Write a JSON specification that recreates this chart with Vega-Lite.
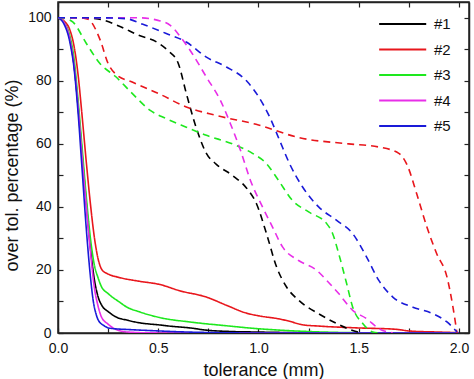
{
  "$schema": "https://vega.github.io/schema/vega-lite/v6.json",
  "width": 411,
  "height": 331,
  "autosize": {"type": "none"},
  "padding": {"left": 58, "top": 2, "right": 5, "bottom": 46},
  "background": "white",
  "config": {
    "font": "Liberation Sans",
    "view": {"stroke": "#222", "strokeWidth": 1.5},
    "axis": {
      "grid": false,
      "labelFont": "Liberation Sans",
      "titleFont": "Liberation Sans",
      "labelColor": "#111",
      "titleColor": "#111",
      "labelFontSize": 14,
      "titleFontSize": 18,
      "titleFontWeight": "normal",
      "tickColor": "#222",
      "tickWidth": 1.2,
      "tickSize": -5,
      "domainColor": "#222",
      "domainWidth": 1.5,
      "labelFlush": false,
      "labelOverlap": false
    }
  },
  "data": {"values": [
    {"series":"#1","style":"solid","x":0,"y":100},{"series":"#1","style":"solid","x":0.03,"y":98.5},{"series":"#1","style":"solid","x":0.06,"y":93},{"series":"#1","style":"solid","x":0.08,"y":85},{"series":"#1","style":"solid","x":0.1,"y":72},{"series":"#1","style":"solid","x":0.12,"y":57},{"series":"#1","style":"solid","x":0.14,"y":42},{"series":"#1","style":"solid","x":0.16,"y":28},{"series":"#1","style":"solid","x":0.18,"y":17.5},{"series":"#1","style":"solid","x":0.2,"y":11.5},{"series":"#1","style":"solid","x":0.22,"y":8.6},{"series":"#1","style":"solid","x":0.25,"y":6.8},{"series":"#1","style":"solid","x":0.283,"y":5.3},{"series":"#1","style":"solid","x":0.35,"y":4.0},{"series":"#1","style":"solid","x":0.41,"y":3.2},{"series":"#1","style":"solid","x":0.5,"y":2.6},{"series":"#1","style":"solid","x":0.57,"y":2.1},{"series":"#1","style":"solid","x":0.66,"y":1.6},{"series":"#1","style":"solid","x":0.74,"y":0.9},{"series":"#1","style":"solid","x":0.85,"y":0.5},{"series":"#1","style":"solid","x":1.0,"y":0.3},{"series":"#1","style":"solid","x":1.2,"y":0.1},{"series":"#1","style":"solid","x":1.5,"y":0},{"series":"#1","style":"solid","x":2.0,"y":0},
    {"series":"#2","style":"solid","x":0,"y":100},{"series":"#2","style":"solid","x":0.03,"y":99},{"series":"#2","style":"solid","x":0.06,"y":96},{"series":"#2","style":"solid","x":0.08,"y":91},{"series":"#2","style":"solid","x":0.1,"y":82},{"series":"#2","style":"solid","x":0.12,"y":69},{"series":"#2","style":"solid","x":0.14,"y":55},{"series":"#2","style":"solid","x":0.16,"y":42},{"series":"#2","style":"solid","x":0.18,"y":31},{"series":"#2","style":"solid","x":0.2,"y":23.5},{"series":"#2","style":"solid","x":0.22,"y":20},{"series":"#2","style":"solid","x":0.25,"y":18.7},{"series":"#2","style":"solid","x":0.3,"y":17.7},{"series":"#2","style":"solid","x":0.407,"y":16.4},{"series":"#2","style":"solid","x":0.507,"y":15.4},{"series":"#2","style":"solid","x":0.607,"y":13.4},{"series":"#2","style":"solid","x":0.74,"y":11.4},{"series":"#2","style":"solid","x":0.84,"y":8.8},{"series":"#2","style":"solid","x":0.94,"y":6.3},{"series":"#2","style":"solid","x":1.006,"y":5.4},{"series":"#2","style":"solid","x":1.1,"y":4.5},{"series":"#2","style":"solid","x":1.15,"y":3.8},{"series":"#2","style":"solid","x":1.22,"y":2.6},{"series":"#2","style":"solid","x":1.3,"y":2.2},{"series":"#2","style":"solid","x":1.5,"y":1.6},{"series":"#2","style":"solid","x":1.68,"y":1.2},{"series":"#2","style":"solid","x":1.76,"y":0.6},{"series":"#2","style":"solid","x":1.9,"y":0.3},{"series":"#2","style":"solid","x":2.0,"y":0.1},
    {"series":"#3","style":"solid","x":0,"y":100},{"series":"#3","style":"solid","x":0.03,"y":98.5},{"series":"#3","style":"solid","x":0.06,"y":94},{"series":"#3","style":"solid","x":0.08,"y":87},{"series":"#3","style":"solid","x":0.1,"y":74},{"series":"#3","style":"solid","x":0.12,"y":59},{"series":"#3","style":"solid","x":0.14,"y":44},{"series":"#3","style":"solid","x":0.16,"y":31},{"series":"#3","style":"solid","x":0.18,"y":22},{"series":"#3","style":"solid","x":0.2,"y":17.5},{"series":"#3","style":"solid","x":0.216,"y":14.8},{"series":"#3","style":"solid","x":0.25,"y":12.5},{"series":"#3","style":"solid","x":0.307,"y":9.8},{"series":"#3","style":"solid","x":0.341,"y":8.3},{"series":"#3","style":"solid","x":0.407,"y":6.7},{"series":"#3","style":"solid","x":0.507,"y":4.9},{"series":"#3","style":"solid","x":0.657,"y":3.5},{"series":"#3","style":"solid","x":0.823,"y":2.4},{"series":"#3","style":"solid","x":0.99,"y":1.4},{"series":"#3","style":"solid","x":1.2,"y":0.6},{"series":"#3","style":"solid","x":1.5,"y":0.1},{"series":"#3","style":"solid","x":2.0,"y":0},
    {"series":"#4","style":"solid","x":0,"y":100},{"series":"#4","style":"solid","x":0.03,"y":98.5},{"series":"#4","style":"solid","x":0.06,"y":93},{"series":"#4","style":"solid","x":0.08,"y":85},{"series":"#4","style":"solid","x":0.1,"y":72},{"series":"#4","style":"solid","x":0.12,"y":56},{"series":"#4","style":"solid","x":0.14,"y":41},{"series":"#4","style":"solid","x":0.16,"y":27},{"series":"#4","style":"solid","x":0.18,"y":15},{"series":"#4","style":"solid","x":0.2,"y":8.5},{"series":"#4","style":"solid","x":0.216,"y":5.2},{"series":"#4","style":"solid","x":0.25,"y":2.8},{"series":"#4","style":"solid","x":0.29,"y":1.1},{"series":"#4","style":"solid","x":0.35,"y":0.3},{"series":"#4","style":"solid","x":0.45,"y":0.05},{"series":"#4","style":"solid","x":0.6,"y":0},{"series":"#4","style":"solid","x":2.0,"y":0},
    {"series":"#5","style":"solid","x":0,"y":100},{"series":"#5","style":"solid","x":0.03,"y":98},{"series":"#5","style":"solid","x":0.06,"y":92},{"series":"#5","style":"solid","x":0.08,"y":84},{"series":"#5","style":"solid","x":0.1,"y":70},{"series":"#5","style":"solid","x":0.12,"y":52},{"series":"#5","style":"solid","x":0.14,"y":34},{"series":"#5","style":"solid","x":0.16,"y":19},{"series":"#5","style":"solid","x":0.175,"y":10.5},{"series":"#5","style":"solid","x":0.19,"y":6},{"series":"#5","style":"solid","x":0.2,"y":4.2},{"series":"#5","style":"solid","x":0.23,"y":2.3},{"series":"#5","style":"solid","x":0.26,"y":1.5},{"series":"#5","style":"solid","x":0.35,"y":1.1},{"series":"#5","style":"solid","x":0.45,"y":0.8},{"series":"#5","style":"solid","x":0.6,"y":0.4},{"series":"#5","style":"solid","x":0.8,"y":0.1},{"series":"#5","style":"solid","x":1.0,"y":0},{"series":"#5","style":"solid","x":2.0,"y":0},
    {"series":"#1","style":"dashed","x":0,"y":100},{"series":"#1","style":"dashed","x":0.1,"y":100},{"series":"#1","style":"dashed","x":0.2,"y":99.6},{"series":"#1","style":"dashed","x":0.3,"y":97.5},{"series":"#1","style":"dashed","x":0.4,"y":94.5},{"series":"#1","style":"dashed","x":0.5,"y":92},{"series":"#1","style":"dashed","x":0.55,"y":89.5},{"series":"#1","style":"dashed","x":0.6,"y":85.5},{"series":"#1","style":"dashed","x":0.64,"y":76},{"series":"#1","style":"dashed","x":0.69,"y":65},{"series":"#1","style":"dashed","x":0.74,"y":57},{"series":"#1","style":"dashed","x":0.79,"y":53.5},{"series":"#1","style":"dashed","x":0.87,"y":50},{"series":"#1","style":"dashed","x":0.94,"y":46},{"series":"#1","style":"dashed","x":0.99,"y":41},{"series":"#1","style":"dashed","x":1.04,"y":31.5},{"series":"#1","style":"dashed","x":1.09,"y":21},{"series":"#1","style":"dashed","x":1.14,"y":14.6},{"series":"#1","style":"dashed","x":1.2,"y":10.4},{"series":"#1","style":"dashed","x":1.3,"y":6.1},{"series":"#1","style":"dashed","x":1.39,"y":3},{"series":"#1","style":"dashed","x":1.47,"y":0.8},{"series":"#1","style":"dashed","x":1.52,"y":0},
    {"series":"#2","style":"dashed","x":0,"y":100},{"series":"#2","style":"dashed","x":0.1,"y":100},{"series":"#2","style":"dashed","x":0.15,"y":99.5},{"series":"#2","style":"dashed","x":0.21,"y":93},{"series":"#2","style":"dashed","x":0.25,"y":85.5},{"series":"#2","style":"dashed","x":0.29,"y":82},{"series":"#2","style":"dashed","x":0.37,"y":79.6},{"series":"#2","style":"dashed","x":0.5,"y":76},{"series":"#2","style":"dashed","x":0.64,"y":71.7},{"series":"#2","style":"dashed","x":0.79,"y":69},{"series":"#2","style":"dashed","x":1.0,"y":66},{"series":"#2","style":"dashed","x":1.2,"y":62},{"series":"#2","style":"dashed","x":1.45,"y":60},{"series":"#2","style":"dashed","x":1.6,"y":59},{"series":"#2","style":"dashed","x":1.7,"y":57},{"series":"#2","style":"dashed","x":1.74,"y":53.5},{"series":"#2","style":"dashed","x":1.79,"y":44},{"series":"#2","style":"dashed","x":1.84,"y":33.6},{"series":"#2","style":"dashed","x":1.89,"y":25},{"series":"#2","style":"dashed","x":1.94,"y":17.8},{"series":"#2","style":"dashed","x":1.97,"y":8.2},{"series":"#2","style":"dashed","x":1.99,"y":0},
    {"series":"#3","style":"dashed","x":0,"y":100},{"series":"#3","style":"dashed","x":0.04,"y":99.7},{"series":"#3","style":"dashed","x":0.075,"y":98.6},{"series":"#3","style":"dashed","x":0.14,"y":92},{"series":"#3","style":"dashed","x":0.21,"y":85.4},{"series":"#3","style":"dashed","x":0.29,"y":81.2},{"series":"#3","style":"dashed","x":0.37,"y":76},{"series":"#3","style":"dashed","x":0.46,"y":70.6},{"series":"#3","style":"dashed","x":0.54,"y":68},{"series":"#3","style":"dashed","x":0.64,"y":65.3},{"series":"#3","style":"dashed","x":0.74,"y":62.7},{"series":"#3","style":"dashed","x":0.87,"y":60},{"series":"#3","style":"dashed","x":0.97,"y":57},{"series":"#3","style":"dashed","x":1.04,"y":53.7},{"series":"#3","style":"dashed","x":1.1,"y":48.4},{"series":"#3","style":"dashed","x":1.17,"y":42},{"series":"#3","style":"dashed","x":1.25,"y":38.4},{"series":"#3","style":"dashed","x":1.34,"y":34.7},{"series":"#3","style":"dashed","x":1.37,"y":31.5},{"series":"#3","style":"dashed","x":1.4,"y":25.2},{"series":"#3","style":"dashed","x":1.44,"y":15.6},{"series":"#3","style":"dashed","x":1.47,"y":8.2},{"series":"#3","style":"dashed","x":1.52,"y":3},{"series":"#3","style":"dashed","x":1.57,"y":0.3},{"series":"#3","style":"dashed","x":1.6,"y":0},
    {"series":"#4","style":"dashed","x":0,"y":100},{"series":"#4","style":"dashed","x":0.2,"y":100},{"series":"#4","style":"dashed","x":0.4,"y":100},{"series":"#4","style":"dashed","x":0.51,"y":99},{"series":"#4","style":"dashed","x":0.56,"y":97.6},{"series":"#4","style":"dashed","x":0.61,"y":94},{"series":"#4","style":"dashed","x":0.67,"y":88.6},{"series":"#4","style":"dashed","x":0.74,"y":81.2},{"series":"#4","style":"dashed","x":0.81,"y":73.8},{"series":"#4","style":"dashed","x":0.86,"y":66.4},{"series":"#4","style":"dashed","x":0.91,"y":58},{"series":"#4","style":"dashed","x":0.96,"y":48.4},{"series":"#4","style":"dashed","x":1.02,"y":40},{"series":"#4","style":"dashed","x":1.07,"y":33.6},{"series":"#4","style":"dashed","x":1.12,"y":27.3},{"series":"#4","style":"dashed","x":1.2,"y":23},{"series":"#4","style":"dashed","x":1.29,"y":19.9},{"series":"#4","style":"dashed","x":1.34,"y":16.7},{"series":"#4","style":"dashed","x":1.4,"y":12.5},{"series":"#4","style":"dashed","x":1.47,"y":7.2},{"series":"#4","style":"dashed","x":1.54,"y":4.5},{"series":"#4","style":"dashed","x":1.6,"y":1.4},{"series":"#4","style":"dashed","x":1.67,"y":0},
    {"series":"#5","style":"dashed","x":0,"y":100},{"series":"#5","style":"dashed","x":0.2,"y":100},{"series":"#5","style":"dashed","x":0.34,"y":99.7},{"series":"#5","style":"dashed","x":0.42,"y":98},{"series":"#5","style":"dashed","x":0.54,"y":95},{"series":"#5","style":"dashed","x":0.64,"y":92.3},{"series":"#5","style":"dashed","x":0.74,"y":87.5},{"series":"#5","style":"dashed","x":0.84,"y":84.4},{"series":"#5","style":"dashed","x":0.94,"y":80},{"series":"#5","style":"dashed","x":1.0,"y":75},{"series":"#5","style":"dashed","x":1.056,"y":68.5},{"series":"#5","style":"dashed","x":1.106,"y":61},{"series":"#5","style":"dashed","x":1.155,"y":53.7},{"series":"#5","style":"dashed","x":1.22,"y":46.3},{"series":"#5","style":"dashed","x":1.3,"y":40},{"series":"#5","style":"dashed","x":1.39,"y":35.7},{"series":"#5","style":"dashed","x":1.47,"y":31.5},{"series":"#5","style":"dashed","x":1.54,"y":24},{"series":"#5","style":"dashed","x":1.6,"y":16.7},{"series":"#5","style":"dashed","x":1.67,"y":11.4},{"series":"#5","style":"dashed","x":1.77,"y":8.2},{"series":"#5","style":"dashed","x":1.87,"y":6.1},{"series":"#5","style":"dashed","x":1.94,"y":3.5},{"series":"#5","style":"dashed","x":1.99,"y":0.3}
  ]},
  "layer": [
    {
      "mark": {"type": "line", "strokeWidth": 1.6, "interpolate": "monotone", "clip": true},
      "encoding": {
        "x": {"field": "x", "type": "quantitative", "scale": {"domain": [0, 2.05], "nice": false},
          "axis": {"title": "tolerance (mm)", "orient": "bottom", "values": [0,0.25,0.5,0.75,1,1.25,1.5,1.75,2],
            "labelExpr": "datum.value % 0.5 === 0 ? format(datum.value, '.1f') : ''", "labelPadding": 13, "titlePadding": 6}},
        "y": {"field": "y", "type": "quantitative", "scale": {"domain": [0, 105], "nice": false},
          "axis": {"title": "over tol. percentage (%)", "orient": "left", "values": [0,10,20,30,40,50,60,70,80,90,100],
            "labelExpr": "datum.value % 20 === 0 ? datum.label : ''", "labelPadding": 12, "titlePadding": 6, "titleY": 173}},
        "color": {"field": "series", "type": "nominal",
          "scale": {"domain": ["#1","#2","#3","#4","#5"], "range": ["#000000","#e8161c","#1ee81e","#e82ee8","#1a1ad8"]},
          "legend": {"title": null, "orient": "none", "legendX": 320, "legendY": 13, "padding": 0,
            "symbolType": "M-1,0L5,0", "symbolSize": 246, "symbolStrokeWidth": 2.2, "symbolFillColor": "transparent",
            "labelFontSize": 15, "labelFont": "Liberation Sans", "labelColor": "#111", "labelOffset": 38, "rowPadding": 8.5}},
        "strokeDash": {"field": "style", "type": "nominal",
          "scale": {"domain": ["solid","dashed"], "range": [[1,0],[7,5]]}, "legend": null},
        "detail": {"field": "style"}
      }
    },
    {
      "mark": {"type": "point", "opacity": 0},
      "encoding": {
        "x": {"field": "x", "type": "quantitative",
          "axis": {"orient": "top", "title": null, "labels": false, "values": [0,0.25,0.5,0.75,1,1.25,1.5,1.75,2]}},
        "y": {"field": "y", "type": "quantitative",
          "axis": {"orient": "right", "title": null, "labels": false, "values": [0,10,20,30,40,50,60,70,80,90,100]}}
      }
    }
  ],
  "resolve": {"axis": {"x": "independent", "y": "independent"}}
}
